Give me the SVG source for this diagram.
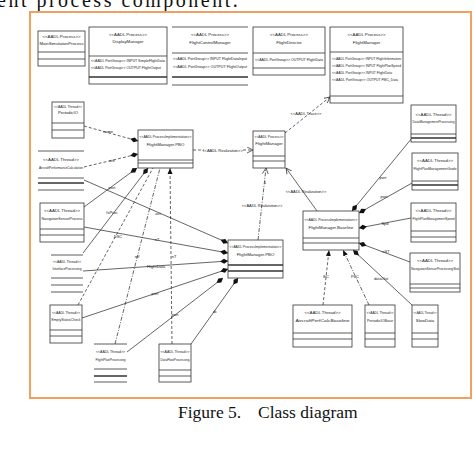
<svg xmlns="http://www.w3.org/2000/svg" width="474" height="450" viewBox="0 0 474 450">
<style>
.b{fill:#fff;stroke:#333;stroke-width:0.8}
.s{stroke:#333;stroke-width:0.8;fill:none}
.k{stroke:#333;stroke-width:1.5;fill:none}
.t{font-family:"Liberation Sans",sans-serif;font-size:4.3px;fill:#222;text-anchor:middle}
.a{font-family:"Liberation Sans",sans-serif;font-size:4px;fill:#222}
.l{font-family:"Liberation Sans",sans-serif;font-size:4px;fill:#222;text-anchor:middle}
.c{stroke:#222;stroke-width:0.7;fill:none}
.d{stroke-dasharray:3 2}
.dd{stroke-dasharray:4 1.5 1 1.5}
.dm{marker-end:url(#dia)}
.oa{marker-end:url(#open)}
.fa{marker-end:url(#fill)}
</style>
<defs>
<marker id="dia" markerWidth="8" markerHeight="6" refX="8" refY="3" orient="auto" markerUnits="userSpaceOnUse"><path d="M0,3 L4,0.5 L8,3 L4,5.5 z" fill="#111"/></marker>
<marker id="open" markerWidth="7" markerHeight="7" refX="6" refY="3.5" orient="auto" markerUnits="userSpaceOnUse"><path d="M0,0.5 L6,3.5 L0,6.5" fill="none" stroke="#222" stroke-width="0.7"/></marker>
<marker id="fill" markerWidth="7" markerHeight="6" refX="6" refY="3" orient="auto" markerUnits="userSpaceOnUse"><path d="M0,0.5 L6,3 L0,5.5 z" fill="#111"/></marker>
</defs>
<rect width="474" height="450" fill="#fff"/>
<text x="-3" y="7" font-family="Liberation Serif,serif" font-size="20" letter-spacing="2.5" fill="#111">ent process component.</text>
<rect x="30" y="12" width="441" height="386" fill="none" stroke="#f0a060" stroke-width="2"/>

<g id="connectors">
<line class="c d dm" x1="84" y1="126" x2="138" y2="141"/>
<line class="c d dm" x1="84" y1="167" x2="138" y2="154"/>
<line class="c dm" x1="84" y1="207" x2="137" y2="168"/>
<line class="c dm" x1="83" y1="253" x2="148" y2="168"/>
<line class="c d" x1="78" y1="305" x2="153" y2="168"/>
<line class="c dd" x1="115" y1="344" x2="160" y2="168"/>
<line class="c d fa" x1="172" y1="344" x2="170" y2="168"/>
<line class="c dm" x1="84" y1="180" x2="228" y2="243"/>
<line class="c dm" x1="84" y1="227" x2="228" y2="253"/>
<line class="c dm" x1="83" y1="271" x2="228" y2="261"/>
<line class="c dm" x1="82" y1="318" x2="228" y2="269"/>
<line class="c dm" x1="127" y1="352" x2="223" y2="278"/>
<line class="c dm" x1="191" y1="344" x2="238" y2="278"/>
<line class="c d oa" x1="193" y1="150" x2="253" y2="150"/>
<line class="c d oa" x1="285" y1="133" x2="330" y2="97"/>
<line class="c dd oa" x1="258" y1="240" x2="266" y2="168"/>
<line class="c oa" x1="317" y1="211" x2="286" y2="168"/>
<line class="c dm" x1="412" y1="138" x2="352" y2="211"/>
<line class="c dm" x1="412" y1="183" x2="359" y2="213"/>
<line class="c dm" x1="411" y1="218" x2="359" y2="228"/>
<line class="c dm" x1="410" y1="262" x2="359" y2="243"/>
<line class="c d fa" x1="323" y1="305" x2="329" y2="250"/>
<line class="c dd fa" x1="369" y1="305" x2="343" y2="250"/>
<line class="c dm" x1="412" y1="305" x2="353" y2="250"/>
<rect x="204" y="147.5" width="37" height="5" fill="#fff"/>
<text class="l" x="222.5" y="151.5">&lt;&lt;AADL Realization&gt;&gt;</text>
<text class="l" x="306" y="115">&lt;&lt;AADL Trace&gt;&gt;</text>
<text class="l" x="262" y="207">&lt;&lt;AADL Realization&gt;&gt;</text>
<text class="l" x="265" y="184">1</text>
<text class="l" x="306" y="193">&lt;&lt;AADL Realization&gt;&gt;</text>
<text class="l" x="108" y="133">name</text>
<text class="l" x="112" y="162">attr</text>
<text class="l" x="112" y="189">port</text>
<text class="l" x="112" y="214">fsProc</text>
<text class="l" x="118" y="238">DSC</text>
<text class="l" x="137" y="258">ref</text>
<text class="l" x="174" y="258">nT</text>
<text class="l" x="158" y="215">act</text>
<text class="l" x="157" y="241">nT</text>
<text class="l" x="156" y="268">FlightData</text>
<text class="l" x="155" y="295">port</text>
<text class="l" x="175" y="316">port</text>
<text class="l" x="215" y="313">dc</text>
<text class="l" x="383" y="179">port</text>
<text class="l" x="384" y="198">port</text>
<text class="l" x="385" y="225">Spd</text>
<text class="l" x="386" y="253">nST</text>
<text class="l" x="326" y="278">EC</text>
<text class="l" x="355" y="278">PeC</text>
<text class="l" x="381" y="280">dataOut</text>
</g>

<g id="nA">
<rect class="b" x="38" y="31" width="47" height="35"/>
<text class="t" x="61.5" y="38">&lt;&lt;AADL Process&gt;&gt;</text>
<text class="t" x="61.5" y="45" textLength="44" lengthAdjust="spacingAndGlyphs">MainSimulationProcess</text>
<line class="s" x1="38" y1="52" x2="85" y2="52"/><line class="s" x1="38" y1="59" x2="85" y2="59"/>
</g>
<g id="nB">
<rect class="b" x="89" y="27" width="78" height="57"/>
<text class="t" x="128" y="36">&lt;&lt;AADL Process&gt;&gt;</text>
<text class="t" x="128" y="43">DisplayManager</text>
<line class="s" x1="89" y1="56" x2="167" y2="56"/>
<text class="a" x="91" y="62" textLength="74" lengthAdjust="spacingAndGlyphs">&lt;&lt;AADL PortGroup&gt;&gt; INPUT SimpleFlightData</text>
<text class="a" x="91" y="69" textLength="70" lengthAdjust="spacingAndGlyphs">&lt;&lt;AADL PortGroup&gt;&gt; OUTPUT FlightOutput</text>
<line class="k" x1="89" y1="77" x2="167" y2="77"/>
</g>
<g id="nC">
<line class="s" x1="172" y1="27" x2="248" y2="27"/>
<text class="t" x="210" y="36">&lt;&lt;AADL Process&gt;&gt;</text>
<text class="t" x="210" y="44">FlightControlManager</text>
<line class="s" x1="172" y1="53" x2="248" y2="53"/>
<text class="a" x="173" y="60" textLength="74" lengthAdjust="spacingAndGlyphs">&lt;&lt;AADL PortGroup&gt;&gt; INPUT FlightDataInput</text>
<text class="a" x="173" y="68" textLength="74" lengthAdjust="spacingAndGlyphs">&lt;&lt;AADL PortGroup&gt;&gt; OUTPUT FlightOutput</text>
<line class="k" x1="172" y1="77" x2="248" y2="77"/>
<line class="s" x1="172" y1="85" x2="248" y2="85"/>
</g>
<g id="nD">
<rect class="b" x="253" y="27" width="72" height="48"/>
<text class="t" x="289" y="36">&lt;&lt;AADL Process&gt;&gt;</text>
<text class="t" x="289" y="44">FlightDirector</text>
<line class="s" x1="253" y1="53" x2="325" y2="53"/>
<text class="a" x="255" y="61" textLength="68" lengthAdjust="spacingAndGlyphs">&lt;&lt;AADL PortGroup&gt;&gt; OUTPUT FlightData</text>
<line class="s" x1="253" y1="68" x2="325" y2="68"/>
</g>
<g id="nE">
<rect class="b" x="330" y="27" width="73" height="76"/>
<text class="t" x="366.5" y="36">&lt;&lt;AADL Process&gt;&gt;</text>
<text class="t" x="366.5" y="44">FlightManager</text>
<line class="s" x1="330" y1="52" x2="403" y2="52"/>
<text class="a" x="332" y="60" textLength="69" lengthAdjust="spacingAndGlyphs">&lt;&lt;AADL PortGroup&gt;&gt; INPUT FlightInformation</text>
<text class="a" x="332" y="67" textLength="69" lengthAdjust="spacingAndGlyphs">&lt;&lt;AADL PortGroup&gt;&gt; INPUT FlightPlanSpeed</text>
<text class="a" x="332" y="74" textLength="60" lengthAdjust="spacingAndGlyphs">&lt;&lt;AADL PortGroup&gt;&gt; INPUT FlightData</text>
<text class="a" x="332" y="81" textLength="66" lengthAdjust="spacingAndGlyphs">&lt;&lt;AADL PortGroup&gt;&gt; OUTPUT FMC_Data</text>
<line class="s" x1="330" y1="96" x2="403" y2="96"/>
</g>
<g id="nF">
<rect class="b" x="52" y="102" width="32" height="36"/>
<text class="t" x="68" y="108" textLength="28" lengthAdjust="spacingAndGlyphs">&lt;&lt;AADL Thread&gt;&gt;</text>
<text class="t" x="68" y="114">PeriodicIO</text>
<line class="s" x1="52" y1="123" x2="84" y2="123"/><line class="s" x1="52" y1="130" x2="84" y2="130"/>
</g>
<g id="nG">
<line class="s" x1="38" y1="151" x2="84" y2="151"/>
<text class="t" x="61" y="161">&lt;&lt;AADL Thread&gt;&gt;</text>
<text class="t" x="61" y="169" textLength="44" lengthAdjust="spacingAndGlyphs">AircraftPerformanceCalculation</text>
<line class="s" x1="38" y1="178" x2="84" y2="178"/><line class="k" x1="38" y1="183" x2="84" y2="183"/><line class="s" x1="38" y1="190" x2="84" y2="190"/>
</g>
<g id="nH">
<rect class="b" x="138" y="130" width="55" height="38"/>
<text class="t" x="165.5" y="138" textLength="52" lengthAdjust="spacingAndGlyphs">&lt;&lt;AADL ProcessImplementation&gt;&gt;</text>
<text class="t" x="165.5" y="146">FlightManager.PBO</text>
<line class="s" x1="138" y1="160" x2="193" y2="160"/><line class="s" x1="138" y1="163" x2="193" y2="163"/>
</g>
<g id="nI">
<rect class="b" x="253" y="131" width="32" height="37"/>
<text class="t" x="269" y="138" textLength="29" lengthAdjust="spacingAndGlyphs">&lt;&lt;AADL Process&gt;&gt;</text>
<text class="t" x="269" y="145">FlightManager</text>
<line class="s" x1="253" y1="156" x2="285" y2="156"/><line class="s" x1="253" y1="161" x2="285" y2="161"/>
</g>
<g id="nJ">
<rect class="b" x="411" y="105" width="45" height="37"/>
<text class="t" x="433.5" y="116">&lt;&lt;AADL Thread&gt;&gt;</text>
<text class="t" x="433.5" y="123" textLength="42" lengthAdjust="spacingAndGlyphs">DataManagementProcessing</text>
<line class="s" x1="411" y1="134" x2="456" y2="134"/><line class="k" x1="411" y1="138" x2="456" y2="138"/>
</g>
<g id="nK">
<rect class="b" x="412" y="153" width="46" height="37"/>
<text class="t" x="435" y="162">&lt;&lt;AADL Thread&gt;&gt;</text>
<text class="t" x="435" y="170" textLength="43" lengthAdjust="spacingAndGlyphs">FlightPlanManagementGuide</text>
<line class="s" x1="412" y1="181" x2="458" y2="181"/><line class="k" x1="412" y1="185" x2="458" y2="185"/>
</g>
<g id="nL">
<rect class="b" x="411" y="203" width="45" height="39"/>
<text class="t" x="433.5" y="212">&lt;&lt;AADL Thread&gt;&gt;</text>
<text class="t" x="433.5" y="220" textLength="42" lengthAdjust="spacingAndGlyphs">FlightPlanManagementSpeed</text>
<line class="s" x1="411" y1="231" x2="456" y2="231"/><line class="s" x1="411" y1="237" x2="456" y2="237"/>
</g>
<g id="nM">
<rect class="b" x="410" y="253" width="50" height="39"/>
<text class="t" x="435" y="262">&lt;&lt;AADL Thread&gt;&gt;</text>
<text class="t" x="435" y="270" textLength="48" lengthAdjust="spacingAndGlyphs">NavigationSensorProcessingStat</text>
<line class="s" x1="410" y1="284" x2="460" y2="284"/><line class="s" x1="410" y1="288" x2="460" y2="288"/>
</g>
<g id="nN">
<rect class="b" x="303" y="211" width="56" height="39"/>
<text class="t" x="331" y="221" textLength="53" lengthAdjust="spacingAndGlyphs">&lt;&lt;AADL ProcessImplementation&gt;&gt;</text>
<text class="t" x="331" y="229">FlightManager.Baseline</text>
<line class="s" x1="303" y1="238" x2="359" y2="238"/><line class="s" x1="303" y1="243" x2="359" y2="243"/>
</g>
<g id="nO">
<rect class="b" x="228" y="240" width="55" height="38"/>
<text class="t" x="255.5" y="248" textLength="52" lengthAdjust="spacingAndGlyphs">&lt;&lt;AADL ProcessImplementation&gt;&gt;</text>
<text class="t" x="255.5" y="256">FlightManager.PBO</text>
<line class="k" x1="228" y1="265" x2="283" y2="265"/><line class="k" x1="228" y1="271" x2="283" y2="271"/>
</g>
<g id="nP">
<rect class="b" x="293" y="305" width="59" height="42"/>
<text class="t" x="322.5" y="314">&lt;&lt;AADL Thread&gt;&gt;</text>
<text class="t" x="322.5" y="322" textLength="54" lengthAdjust="spacingAndGlyphs">AircraftPerfCalcBaseline</text>
<line class="s" x1="293" y1="333" x2="352" y2="333"/><line class="s" x1="293" y1="339" x2="352" y2="339"/>
</g>
<g id="nQ">
<rect class="b" x="365" y="305" width="30" height="42"/>
<text class="t" x="380" y="314" textLength="27" lengthAdjust="spacingAndGlyphs">&lt;&lt;AADL Thread&gt;&gt;</text>
<text class="t" x="380" y="322" textLength="26" lengthAdjust="spacingAndGlyphs">PeriodicIOBase</text>
<line class="s" x1="365" y1="333" x2="395" y2="333"/><line class="s" x1="365" y1="339" x2="395" y2="339"/>
</g>
<g id="nR">
<rect class="b" x="412" y="305" width="26" height="42"/>
<text class="t" x="425" y="314" textLength="23" lengthAdjust="spacingAndGlyphs">&lt;&lt;AADL Thread&gt;&gt;</text>
<text class="t" x="425" y="322">SlowData</text>
<line class="s" x1="412" y1="333" x2="438" y2="333"/><line class="s" x1="412" y1="339" x2="438" y2="339"/>
</g>
<g id="nS">
<rect class="b" x="40" y="203" width="44" height="39"/>
<text class="t" x="62" y="212">&lt;&lt;AADL Thread&gt;&gt;</text>
<text class="t" x="62" y="220" textLength="41" lengthAdjust="spacingAndGlyphs">NavigationSensorProcess</text>
<line class="s" x1="40" y1="229" x2="84" y2="229"/><line class="s" x1="40" y1="235" x2="84" y2="235"/>
</g>
<g id="nT">
<line class="s" x1="51" y1="255" x2="83" y2="255"/>
<text class="t" x="67" y="263" textLength="28" lengthAdjust="spacingAndGlyphs">&lt;&lt;AADL Thread&gt;&gt;</text>
<text class="t" x="67" y="270" textLength="29" lengthAdjust="spacingAndGlyphs">InterfaceProcessing</text>
<line class="s" x1="51" y1="278" x2="83" y2="278"/><line class="s" x1="51" y1="285" x2="83" y2="285"/><line class="s" x1="51" y1="292" x2="83" y2="292"/>
</g>
<g id="nU">
<rect class="b" x="50" y="305" width="32" height="38"/>
<text class="t" x="66" y="314" textLength="28" lengthAdjust="spacingAndGlyphs">&lt;&lt;AADL Thread&gt;&gt;</text>
<text class="t" x="66" y="321" textLength="29" lengthAdjust="spacingAndGlyphs">EmptyStatusCheck</text>
<line class="s" x1="50" y1="330" x2="82" y2="330"/><line class="s" x1="50" y1="336" x2="82" y2="336"/>
</g>
<g id="nV">
<line class="s" x1="94" y1="344" x2="127" y2="344"/>
<text class="t" x="110.5" y="353" textLength="29" lengthAdjust="spacingAndGlyphs">&lt;&lt;AADL Thread&gt;&gt;</text>
<text class="t" x="110.5" y="361" textLength="30" lengthAdjust="spacingAndGlyphs">FlightPlanProcessing</text>
<line class="s" x1="94" y1="369" x2="127" y2="369"/><line class="k" x1="94" y1="376" x2="127" y2="376"/><line class="s" x1="94" y1="382" x2="127" y2="382"/>
</g>
<g id="nW">
<rect class="b" x="159" y="344" width="32" height="38"/>
<text class="t" x="175" y="353" textLength="29" lengthAdjust="spacingAndGlyphs">&lt;&lt;AADL Thread&gt;&gt;</text>
<text class="t" x="175" y="361" textLength="29" lengthAdjust="spacingAndGlyphs">DataFlowProcessing</text>
<line class="s" x1="159" y1="370" x2="191" y2="370"/><line class="s" x1="159" y1="376" x2="191" y2="376"/>
</g>

<text x="178" y="418" font-family="Liberation Serif,serif" font-size="17.5" fill="#111">Figure 5.</text>
<text x="258" y="418" font-family="Liberation Serif,serif" font-size="17.5" fill="#111">Class diagram</text>
</svg>
